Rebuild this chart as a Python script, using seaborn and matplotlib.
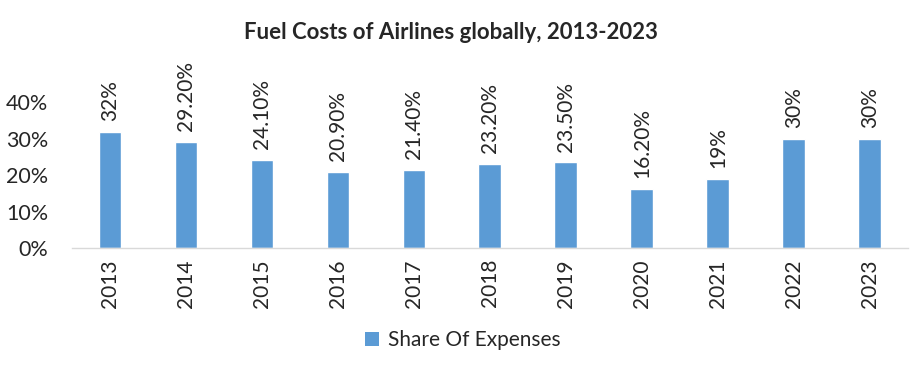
import matplotlib
matplotlib.use("Agg")
import matplotlib.pyplot as plt
from matplotlib.patches import Patch
import numpy as np
import pandas as pd
import seaborn as sns

# data
years = ["2013", "2014", "2015", "2016", "2017", "2018", "2019", "2020", "2021", "2022", "2023"]
share = [0.32, 0.292, 0.241, 0.209, 0.214, 0.232, 0.235, 0.162, 0.19, 0.30, 0.30]
labels = ["32%", "29.20%", "24.10%", "20.90%", "21.40%", "23.20%", "23.50%", "16.20%", "19%", "30%", "30%"]

sns.set_theme(style="white")
plt.rcParams['font.family'] = ['Lato', 'DejaVu Sans']

df = pd.DataFrame({"year": years, "share": share})
bar_color = "#5B9BD5"

fig = plt.figure(figsize=(9.16, 3.74), dpi=100)
ax = fig.add_axes([0.0786, 0.337, 0.9124, 0.4865])

sns.barplot(data=df, x="year", y="share", color=bar_color, width=0.3,
            saturation=1, ax=ax)

ax.set_ylim(0, 0.5)
ax.set_yticks([0, 0.1, 0.2, 0.3, 0.4])
ax.set_yticklabels(["0%", "10%", "20%", "30%", "40%"], fontsize=15.5)
ax.tick_params(axis="x", labelrotation=90, labelsize=15, length=0, pad=8)
ax.tick_params(axis="y", length=0, pad=17)
ax.set_xlabel("")
ax.set_ylabel("")
for s in ["top", "right", "left"]:
    ax.spines[s].set_visible(False)
ax.spines["bottom"].set_color("#D9D9D9")
ax.spines["bottom"].set_linewidth(1)

for i, (v, t) in enumerate(zip(share, labels)):
    ax.text(i, v + 0.03, t, rotation=90, ha="center", va="bottom",
            fontsize=15, clip_on=False)

fig.text(0.492, 0.914, "Fuel Costs of Airlines globally, 2013-2023", ha="center",
         va="center", fontsize=16, fontweight="bold")

handle = Patch(facecolor=bar_color, edgecolor="none")
fig.legend([handle], ["Share Of Expenses"], loc="center", bbox_to_anchor=(0.505, 0.09),
           frameon=False, fontsize=15, handlelength=0.7, handleheight=0.7,
           handletextpad=0.4)

fig.savefig("out.png", dpi=100)
